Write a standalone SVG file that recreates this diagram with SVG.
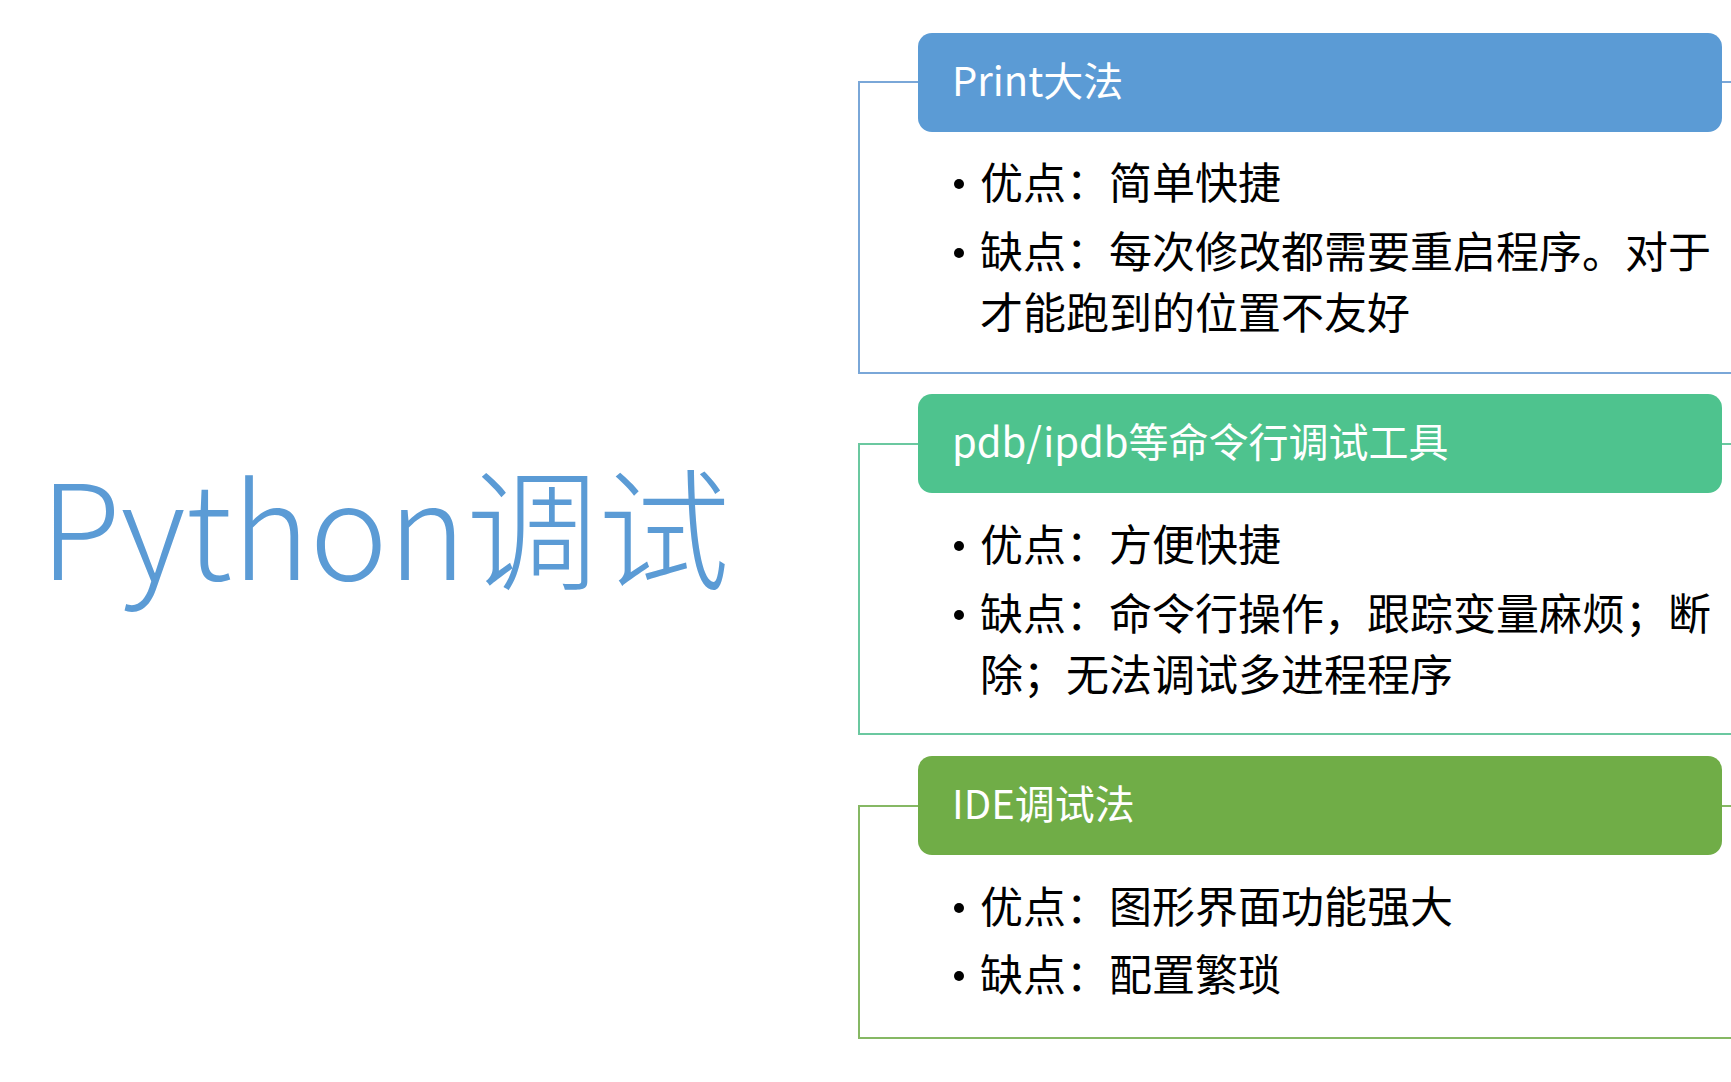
<svg xmlns="http://www.w3.org/2000/svg" width="1731" height="1082" viewBox="0 0 1731 1082">
<style>
.t{font-family:"Noto Sans CJK SC","Noto Sans",sans-serif;}
.hd{font-size:40px;fill:#fff;font-weight:400;}
.b{font-size:43px;fill:#000;}
.f{fill:none;stroke-width:2;}
.d{fill:#000;}
</style>
<rect width="1731" height="1082" fill="#fff"/>
<text class="t" x="40" y="580" font-size="132" font-weight="300" fill="#5B9BD5">Python调试</text>
<g id="connectors">
<path class="f" stroke="#7AA7D8" d="M1740 82 H859 V373 H1740"/>
<path class="f" stroke="#6BC8A0" d="M1740 444 H859 V734 H1740"/>
<path class="f" stroke="#86B864" d="M1740 806 H859 V1038 H1740"/>
</g>
<g id="print">
<rect x="918" y="33" width="804" height="99" rx="14" fill="#5B9BD5"/>
<text class="t hd" x="952" y="96">Print大法</text>
<circle class="d" cx="959" cy="184" r="5"/><text class="t b" x="980" y="199">优点：简单快捷</text>
<circle class="d" cx="959" cy="253" r="5"/><text class="t b" x="980" y="268">缺点：每次修改都需要重启程序。对于</text>
<text class="t b" x="980" y="329">才能跑到的位置不友好</text>
</g>
<g id="pdb">
<rect x="918" y="394" width="804" height="99" rx="14" fill="#4EC38E"/>
<text class="t hd" x="952" y="457">pdb/ipdb等命令行调试工具</text>
<circle class="d" cx="959" cy="546" r="5"/><text class="t b" x="980" y="561">优点：方便快捷</text>
<circle class="d" cx="959" cy="615" r="5"/><text class="t b" x="980" y="630">缺点：命令行操作，跟踪变量麻烦；断</text>
<text class="t b" x="980" y="691">除；无法调试多进程程序</text>
</g>
<g id="ide">
<rect x="918" y="756" width="804" height="99" rx="14" fill="#70AD47"/>
<text class="t hd" x="952" y="819">IDE调试法</text>
<circle class="d" cx="959" cy="908" r="5"/><text class="t b" x="980" y="923">优点：图形界面功能强大</text>
<circle class="d" cx="959" cy="976" r="5"/><text class="t b" x="980" y="991">缺点：配置繁琐</text>
</g>
</svg>
